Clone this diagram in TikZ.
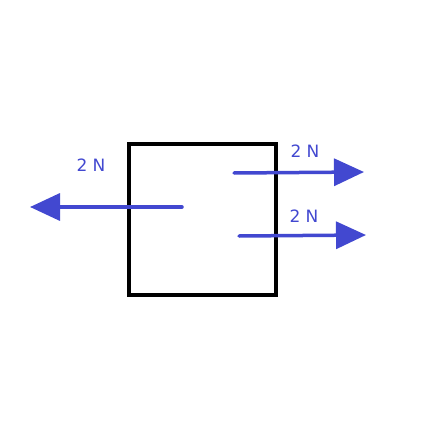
\documentclass[tikz,border=0pt]{standalone}
\usepackage{fontspec}
\setmainfont{DejaVu Sans}
\usetikzlibrary{arrows.meta}
\definecolor{forceblue}{RGB}{66,72,208}
\tikzset{force/.style={draw=forceblue,line width=3.5pt,line cap=round,-{Triangle[length=30pt,width=27pt]}},
	flabel/.style={text=forceblue,font=\fontsize{17}{20}\selectfont,inner sep=0pt}}
\begin{document}
\begin{tikzpicture}[line cap=round,line join=round,x=1pt,y=-1pt]
	\useasboundingbox (0,0) rectangle (425,425);
	\draw[line width=4pt,line cap=butt,line join=miter] (129,144) rectangle (276,295);
	\coordinate (l0) at (182,207); \coordinate (l1) at (30,207);
	\coordinate (a0) at (234,173); \coordinate (a1) at (364,172);
	\coordinate (b0) at (239,236); \coordinate (b1) at (366,235);
	\draw[force] (l0)--(l1);
	\draw[force] (a0)--(a1);
	\draw[force] (b0)--(b1);
	\node[flabel] (fl) at (91,165) {2 N};
	\node[flabel] (fa) at (305,151) {2 N};
	\node[flabel] (fb) at (304,216) {2 N};
\end{tikzpicture}
\end{document}
